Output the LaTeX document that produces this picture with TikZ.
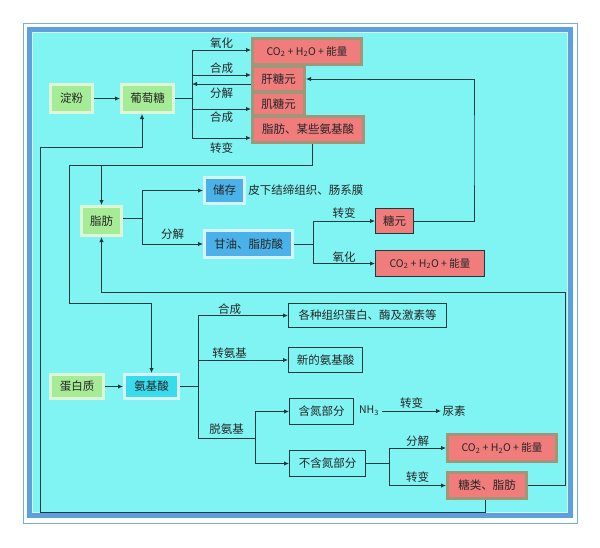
\documentclass[tikz,border=0pt]{standalone}
\usepackage{fontspec}
\newfontfamily\cjk{Noto Sans CJK SC}
\usetikzlibrary{arrows.meta, positioning}

\definecolor{bgcyan}{RGB}{128,244,243}
\definecolor{framecol}{RGB}{93,160,222}
\definecolor{linecol}{RGB}{26,58,64}
\definecolor{fillgreen}{RGB}{166,236,150}
\definecolor{rimgreen}{RGB}{222,246,214}
\definecolor{fillred}{RGB}{240,124,124}
\definecolor{rimred}{RGB}{162,150,120}
\definecolor{fillblue}{RGB}{74,178,232}
\definecolor{fillaqua}{RGB}{56,220,236}
\definecolor{rimlight}{RGB}{214,244,248}

\begin{document}
\begin{tikzpicture}[
    x=1pt, y=-1pt, >={Latex[length=5pt,width=4.5pt]},
    line width=0.9pt, draw=linecol,
    every node/.style={font=\cjk\fontsize{11.5}{13}\selectfont, inner sep=0pt, text=black!85},
    greenbox/.style={rectangle, fill=fillgreen, draw=rimgreen, line width=3pt},
    redbox/.style={rectangle, fill=fillred, draw=rimred, line width=3pt},
    darkredbox/.style={rectangle, fill=fillred, draw=linecol, line width=1pt},
    bluebox/.style={rectangle, fill=fillblue, draw=rimlight, line width=3pt},
    aquabox/.style={rectangle, fill=fillaqua, draw=rimlight, line width=3pt},
    plainbox/.style={rectangle, draw=linecol, line width=1pt},
    lbl/.style={font=\cjk\fontsize{11.5}{13}\selectfont},
    small/.style={font=\cjk\fontsize{10.5}{12}\selectfont}]

    \useasboundingbox (0,0) rectangle (600,547);

    % Frame
    \fill[bgcyan] (31,31) rectangle (569,514);
    \draw[framecol, line width=5pt] (29.5,29.5) rectangle (570.5,515.5);
    \draw[framecol!85, line width=1pt] (23,23) rectangle (577,523);
    \draw[rimlight, line width=0.8pt] (32.5,32.5) rectangle (567.5,512.5);

    % Sugar part
    \node[greenbox, minimum width=42pt, minimum height=28pt] (dianfen) at (71.5,98.5) {淀粉};
    \node[greenbox, minimum width=52pt, minimum height=28pt] (putaotang) [right=26pt of dianfen] {葡萄糖};
    \node[redbox, small, minimum width=109pt, minimum height=26pt] (co2a) at (307,51.5)
        {CO\textsubscript{2} + H\textsubscript{2}O + 能量};
    \node[redbox, minimum width=52pt, minimum height=25pt, anchor=north west] (gantangyuan)
        at ([yshift=1pt]co2a.south west) {肝糖元};
    \node[redbox, minimum width=52pt, minimum height=23pt, anchor=north west] (jitangyuan)
        at ([yshift=2pt]gantangyuan.south west) {肌糖元};
    \node[redbox, minimum width=111pt, minimum height=26pt, anchor=north west] (zhifangA)
        at ([yshift=2pt]jitangyuan.south west) {脂肪、某些氨基酸};

    % Fat part
    \node[greenbox, minimum width=40pt, minimum height=29pt] (zhifang) at (101.5,221) {脂肪};
    \node[bluebox, minimum width=40pt, minimum height=26pt] (chucun) at (224.5,190.5) {储存};
    \node[anchor=west] (pixia) at ([xshift=2pt]chucun.east) {皮下结缔组织、肠系膜};
    \node[bluebox, minimum width=88pt, minimum height=27pt] (ganyou) at (248.5,244) {甘油、脂肪酸};
    \node[darkredbox, minimum width=38pt, minimum height=25pt] (tangyuan) at (394.5,221) {糖元};
    \node[darkredbox, small, minimum width=109pt, minimum height=26pt] (co2b) at (430,263.5)
        {CO\textsubscript{2} + H\textsubscript{2}O + 能量};

    % Protein part
    \node[greenbox, minimum width=53pt, minimum height=24pt] (danbai) at (77,386.5) {蛋白质};
    \node[aquabox, minimum width=54pt, minimum height=24pt] (anjisuan) [right=18pt of danbai] {氨基酸};
    \node[plainbox, minimum width=158pt, minimum height=24pt] (gezhong) at (367.5,315.5) {各种组织蛋白、酶及激素等};
    \node[plainbox, minimum width=74pt, minimum height=25pt] (xinde) at (325.5,360) {新的氨基酸};
    \node[plainbox, minimum width=64pt, minimum height=26pt] (handan) at (321.5,411.5) {含氮部分};
    \node[small] (nh3) at (369,411) {NH\textsubscript{3}};
    \node (niaosu) at (454,411) {尿素};
    \node[plainbox, minimum width=76pt, minimum height=26pt] (buhan) at (327.5,463.5) {不含氮部分};
    \node[redbox, small, minimum width=109pt, minimum height=27pt] (co2c) at (502,448)
        {CO\textsubscript{2} + H\textsubscript{2}O + 能量};
    \node[redbox, minimum width=79pt, minimum height=26pt] (tanglei) at (487,485.5) {糖类、脂肪};

    % Branch points
    \coordinate (gs) at (192,98.5);
    \coordinate (gt) at (192,50);
    \coordinate (ga) at (192,75);
    \coordinate (gf) at (192,84);
    \coordinate (gm) at (192,109);
    \coordinate (gb) at (192,138);
    \coordinate (rc) at (474,150);
    \coordinate (ja) at (69,165);
    \coordinate (jb) at (69,303);
    \coordinate (lb) at (40,512);
    \coordinate (lt) at (40,147);
    \coordinate (rr) at (565,292);
    \coordinate (zb) at (142,218);
    \coordinate (yb) at (313,244);
    \coordinate (as) at (198,386.5);
    \coordinate (at) at (198,315.5);
    \coordinate (ab) at (198,438);
    \coordinate (ds) at (255,438);
    \coordinate (bs) at (389,463.5);

    % Draw transitions
    \draw[->] (dianfen) -- (putaotang);
    \draw (putaotang) -- (gs);
    \draw (gt) -- (gb);
    \draw[->] (gt) -- (gt -| co2a.west) node[lbl, midway, above=1pt] {氧化};
    \draw[->] (ga) -- (ga -| gantangyuan.west) node[lbl, midway, above=1.5pt] {合成};
    \draw[->] (gf -| gantangyuan.west) -- (gf) node[lbl, midway, below=3pt] {分解};
    \draw[->] (gm) -- (gm -| jitangyuan.west) node[lbl, midway, below=2.5pt] {合成};
    \draw[->] (gb) -- (gb -| zhifangA.west) node[lbl, midway, below=4pt] {转变};

    \draw[->] (tangyuan.east) -| (rc) |- (gantangyuan.east);
    \draw[->] ([xshift=4pt]zhifangA.south) |- (ja) -- (jb) -| (anjisuan.north);
    \draw[->] (zhifang.north |- ja) -- (zhifang.north);
    \draw[->] ([xshift=-2pt]tanglei.south) |- (lb) -- (lt) -| ([xshift=-5.5pt]putaotang.south);

    \draw (zhifang.east |- zb) -- (zb);
    \draw[->] (zb) |- (chucun.west);
    \draw[->] (zb) |- (ganyou.west) node[lbl, pos=0.75, above=4pt] {分解};
    \draw (ganyou.east) -- (yb);
    \draw[->] (yb) |- (tangyuan.west) node[lbl, pos=0.75, above=2pt] {转变};
    \draw[->] (yb) |- (co2b.west) node[lbl, pos=0.75, above=1pt] {氧化};
    \draw[->] (tanglei.east) -| (rr) -| (zhifang.south);

    \draw[->] (danbai) -- (anjisuan);
    \draw (anjisuan.east) -- (as);
    \draw (at) -- (ab);
    \draw[->] (at) -- (gezhong.west) node[lbl, pos=0.35, above=1pt] {合成};
    \draw[->] (at |- xinde.west) -- (xinde.west) node[lbl, pos=0.35, above=1pt] {转氨基};
    \draw (ab) -- (ds) node[lbl, midway, above=3pt] {脱氨基};
    \draw[->] (ds) |- (handan.west);
    \draw[->] (ds) |- (buhan.west);
    \draw[->] ([xshift=3pt]nh3.east) -- ([xshift=-1pt]niaosu.west) node[lbl, midway, above=2pt] {转变};
    \draw (buhan.east) -- (bs);
    \draw[->] (bs) |- (co2c.west) node[lbl, pos=0.75, above=1pt] {分解};
    \draw[->] (bs) |- (tanglei.west) node[lbl, pos=0.75, above=3pt] {转变};
\end{tikzpicture}
\end{document}
